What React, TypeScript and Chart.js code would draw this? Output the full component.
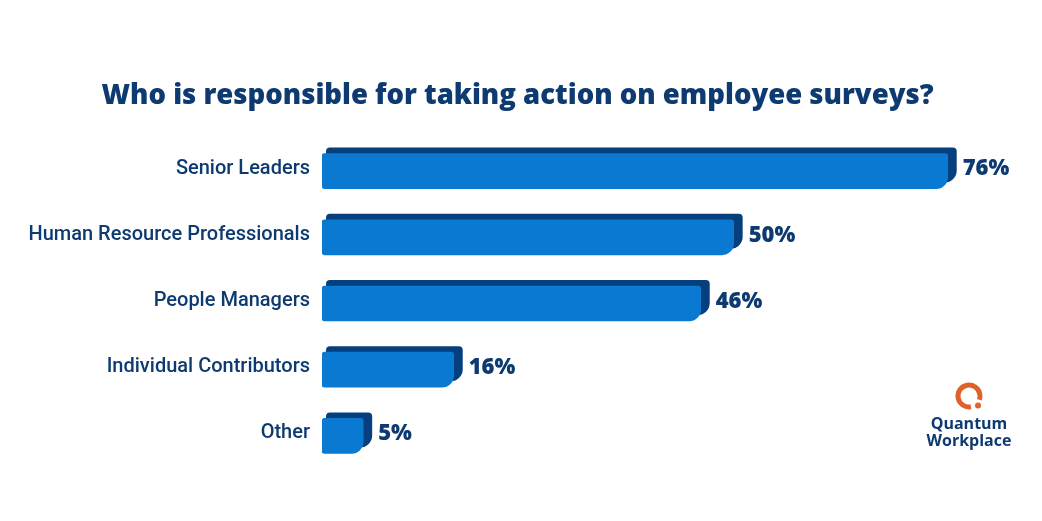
import React, { useEffect, useRef } from "react";
import { Chart, registerables } from "chart.js";

Chart.register(...registerables);

const categories = [
  "Senior Leaders",
  "Human Resource Professionals",
  "People Managers",
  "Individual Contributors",
  "Other",
];
const values = [76, 50, 46, 16, 5];
const valueLabels = ["76%", "50%", "46%", "16%", "5%"];
const titleText = "Who is responsible for taking action on employee surveys?";
const logoLines = ["Quantum", "Workplace"];

const FRONT = "#0a79d1";
const BACK = "#063f7d";
const NAVY = "#0d3a70";
const ORANGE = "#e0622b";

function roundRect(ctx: CanvasRenderingContext2D, x: number, y: number, w: number, h: number, r: { tl: number; tr: number; br: number; bl: number }) {
  ctx.beginPath();
  ctx.moveTo(x + r.tl, y);
  ctx.lineTo(x + w - r.tr, y);
  ctx.arcTo(x + w, y, x + w, y + r.tr, r.tr);
  ctx.lineTo(x + w, y + h - r.br);
  ctx.arcTo(x + w, y + h, x + w - r.br, y + h, r.br);
  ctx.lineTo(x + r.bl, y + h);
  ctx.arcTo(x, y + h, x, y + h - r.bl, r.bl);
  ctx.lineTo(x, y + r.tl);
  ctx.arcTo(x, y, x + r.tl, y, r.tl);
  ctx.closePath();
}

const decorPlugin = {
  id: "decor",
  beforeDatasetsDraw(chart: any) {
    const ctx = chart.ctx as CanvasRenderingContext2D;
    const meta = chart.getDatasetMeta(0);
    ctx.save();
    ctx.fillStyle = BACK;
    meta.data.forEach((el: any) => {
      const left = Math.min(el.base, el.x);
      const w = Math.abs(el.x - el.base);
      const h = el.height;
      roundRect(ctx, left + 4, el.y - h / 2 - 6, w + 5, h, { tl: 4, tr: 4, br: 12, bl: 4 });
      ctx.fill();
    });
    ctx.restore();
  },
  afterDatasetsDraw(chart: any) {
    const ctx = chart.ctx as CanvasRenderingContext2D;
    const meta = chart.getDatasetMeta(0);
    ctx.save();
    ctx.fillStyle = NAVY;
    ctx.font = "800 22px 'Open Sans'";
    ctx.textAlign = "left";
    ctx.textBaseline = "middle";
    meta.data.forEach((el: any, i: number) => {
      ctx.fillText(valueLabels[i], el.x + 15, el.y - 2);
    });
    // logo
    const cx = 969;
    const cy = 396;
    ctx.strokeStyle = ORANGE;
    ctx.lineWidth = 5;
    ctx.beginPath();
    ctx.arc(cx, cy, 11, (80 * Math.PI) / 180, (380 * Math.PI) / 180);
    ctx.stroke();
    ctx.fillStyle = ORANGE;
    ctx.beginPath();
    ctx.arc(cx + 9, cy + 9.5, 3, 0, Math.PI * 2);
    ctx.fill();
    ctx.fillStyle = NAVY;
    ctx.font = "700 16px 'Open Sans'";
    ctx.textAlign = "center";
    ctx.fillText(logoLines[0], cx, 424);
    ctx.fillText(logoLines[1], cx, 441);
    ctx.restore();
  },
};

export default function App() {
  const ref = useRef<HTMLCanvasElement | null>(null);
  useEffect(() => {
    if (!ref.current) return;
    const chart = new Chart(ref.current, {
      type: "bar",
      data: {
        labels: categories,
        datasets: [
          {
            data: values,
            backgroundColor: FRONT,
            borderWidth: 0,
            borderSkipped: false,
            borderRadius: { topLeft: 3, topRight: 3, bottomLeft: 3, bottomRight: 12 },
            barThickness: 35,
          },
        ],
      },
      options: {
        indexAxis: "y",
        animation: false,
        responsive: true,
        maintainAspectRatio: false,
        layout: { padding: { left: 0, right: 7, top: 0, bottom: 52 } },
        plugins: {
          legend: { display: false },
          tooltip: { enabled: false },
          title: {
            display: true,
            text: titleText,
            color: NAVY,
            font: { family: "'Open Sans'", size: 27.5, weight: "800", lineHeight: 1.2 },
            padding: { top: 80, bottom: 25 },
          },
        },
        scales: {
          x: { display: false, min: 0, max: 86.6 },
          y: {
            afterFit: (s: any) => {
              s.width = 322;
            },
            grid: { display: false },
            border: { display: false },
            ticks: {
              color: NAVY,
              padding: 4,
              labelOffset: -2.5,
              font: { family: "Roboto", size: 20, weight: "500" },
            },
          },
        },
      },
      plugins: [decorPlugin],
    });
    return () => chart.destroy();
  }, []);
  return (
    <div style={{ position: "absolute", left: 0, top: 0, width: 1042, height: 521, background: "#fff" }}>
      <canvas ref={ref} />
    </div>
  );
}
